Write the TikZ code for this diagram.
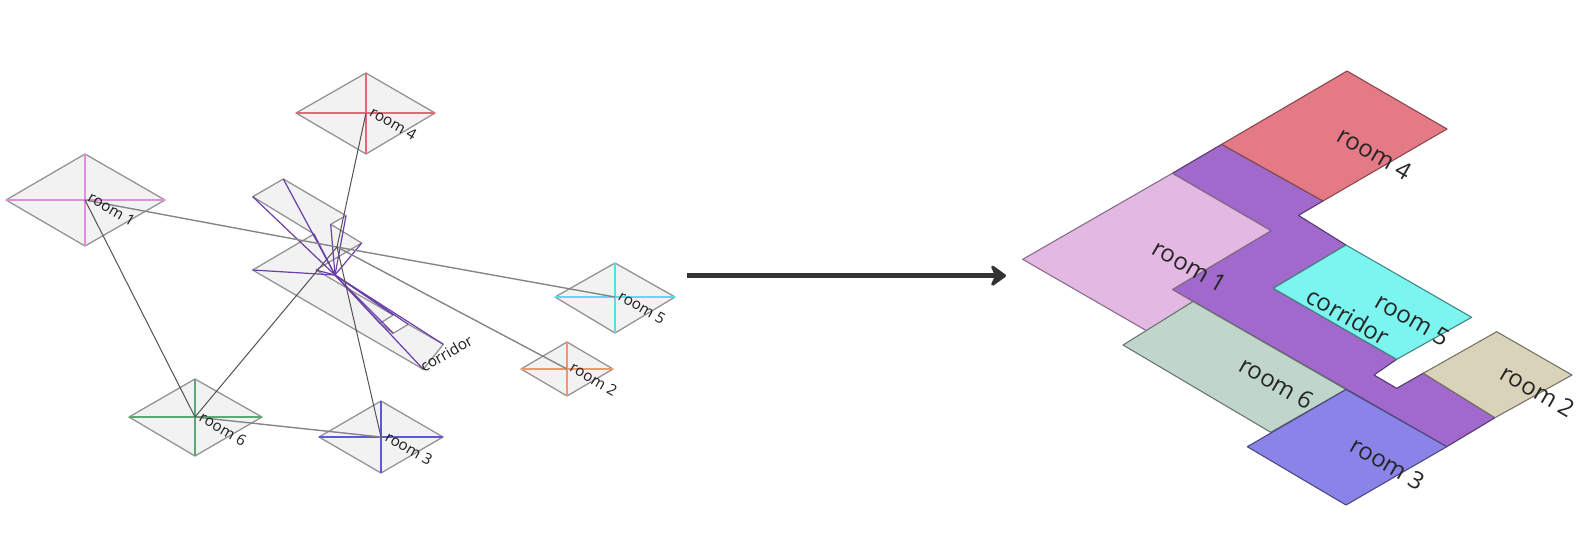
\documentclass[tikz,border=0pt]{standalone}
\usepackage{fontspec}
\setmainfont{Open Sans}
\usetikzlibrary{arrows.meta}
\definecolor{cOne}{HTML}{E3B8E2}
\definecolor{cTwo}{HTML}{D9D3B9}
\definecolor{cThree}{HTML}{8B84E8}
\definecolor{cFour}{HTML}{E37A85}
\definecolor{cFive}{HTML}{7CF5F0}
\definecolor{cSix}{HTML}{C0D6CB}
\definecolor{cCor}{HTML}{A169CC}
\definecolor{xOne}{HTML}{E58BE0}
\definecolor{xTwo}{HTML}{F0986C}
\definecolor{xThree}{HTML}{5F55E0}
\definecolor{xFour}{HTML}{DF6A78}
\definecolor{xFive}{HTML}{5ADCEE}
\definecolor{xSix}{HTML}{5DA873}
\definecolor{xStar}{HTML}{6A3FA8}
\tikzset{
  plate/.style={fill=black!5,draw=black!42,line width=1.3pt,line join=round},
  cross/.style={line width=1.4pt},
  star/.style={draw=xStar,line width=1.2pt},
  linkdark/.style={draw=black!68,line width=1pt},
  linkgray/.style={draw=black!48,line width=1.4pt},
  roomshape/.style={line width=1.1pt,line join=round},
  smalllab/.style={font=\fontsize{15.2}{18}\selectfont,rotate=-30,inner sep=0pt,text=black!88},
  biglab/.style={font=\fontsize{24}{28}\selectfont,rotate=-30,inner sep=0pt,text=black!85},
  bigarrow/.style={draw=black!80,line width=5pt,-{Stealth[length=18pt,width=26pt,inset=6pt,round]}}
}
\begin{document}
\begin{tikzpicture}[x=1pt,y=-1pt]
\useasboundingbox (0,0) rectangle (1593,547);
\coordinate (r1) at (85,200);
\coordinate (r2) at (567,369);
\coordinate (r3) at (381,437);
\coordinate (r4) at (366,113);
\coordinate (r5) at (615,297);
\coordinate (r6) at (195,417);
\coordinate (cc) at (335,275);
\coordinate (jn) at (337,247);
% plates
\draw[plate] (6,200)--(85,154)--(165,200)--(85,246)--cycle;
\draw[plate] (296,113)--(366,73)--(435,113)--(366,154)--cycle;
\draw[plate] (129,417)--(195,379)--(262,417)--(195,456)--cycle;
\draw[plate] (319,437)--(381,401)--(443,437)--(381,473)--cycle;
\draw[plate] (555,297)--(615,263)--(675,297)--(615,333)--cycle;
\draw[plate] (521,369)--(567,342)--(613,369)--(567,396)--cycle;
\draw[plate] (252.7,196.7)--(283.3,179)--(346,215.7)--(330.7,224.3)--(361.7,243)--(316,270)--(393.3,315)--(380,323.3)--(393.3,333.3)--(408.3,324.3)--(443.3,344.3)--(423.3,369.3)--(252.7,270)--(314,234)--cycle;
% crosses
\draw[cross,draw=xOne] (6,200)--(165,200) (85,154)--(85,246);
\draw[cross,draw=xFour] (296,113)--(435,113) (366,73)--(366,154);
\draw[cross,draw=xSix] (129,417)--(262,417) (195,379)--(195,456);
\draw[cross,draw=xThree] (319,437)--(443,437) (381,401)--(381,473);
\draw[cross,draw=xFive] (555,297)--(675,297) (615,263)--(615,333);
\draw[cross,draw=xTwo] (521,369)--(613,369) (567,342)--(567,396);
% corridor star
\foreach \p in {(252.7,196.7),(283.3,179),(346,215.7),(330.7,224.3),(361.7,243),(316,270),(393.3,315),(380,323.3),(393.3,333.3),(408.3,324.3),(443.3,344.3),(423.3,369.3),(252.7,270),(314,234)}
  \draw[star] (cc)--\p;
% connectors
\draw[linkgray] (r1)--(jn);
\draw[linkgray] (jn)--(r5);
\draw[linkgray] (r2)--(jn);
\draw[linkgray] (r6)--(r3);
\draw[linkdark] (r1)--(r6);
\draw[linkdark] (r6)--(jn);
\draw[linkdark] (r4)--(jn);
\draw[linkdark] (r3)--(jn);
% left labels
\node[smalllab] (l4) at (393.3,123.3) {room 4};
\node[smalllab] (l1) at (111.7,209) {room 1};
\node[smalllab] (l6) at (223,429) {room 6};
\node[smalllab] (l3) at (409,448.3) {room 3};
\node[smalllab] (l5) at (642,307.3) {room 5};
\node[smalllab] (l2) at (593.7,379) {room 2};
\node[smalllab,rotate=60] (lc) at (446.3,353.3) {corridor};
% arrow
\coordinate (as) at (687,275.7);
\coordinate (ae) at (1006,275.7);
\draw[bigarrow] (as)--(ae);
% right plan
\draw[roomshape,fill=cCor,draw=cCor!55!black] (1172.3,173.3)--(1221.7,144.3)--(1323,201)--(1298.5,215.4)--(1346,245)--(1273.3,288.3)--(1396.7,359.3)--(1374,375)--(1396.7,388.3)--(1423.3,373.2)--(1495,417.7)--(1446.7,446.7)--(1172.3,289.5)--(1271,230.7)--cycle;
\draw[roomshape,fill=cOne,draw=cOne!60!black] (1022.7,259.3)--(1172.3,173.3)--(1271,230.7)--(1172.3,289.5)--(1193,301.5)--(1147,331)--cycle;
\draw[roomshape,fill=cFour,draw=cFour!60!black] (1221.7,144.3)--(1347,71)--(1447,129)--(1323,201)--cycle;
\draw[roomshape,fill=cFive,draw=cFive!55!black] (1273.3,288.3)--(1346,245)--(1471.7,317.3)--(1396.7,359.3)--cycle;
\draw[roomshape,fill=cSix,draw=cSix!55!black] (1123,345)--(1193,301.5)--(1346,389.5)--(1270.7,432.3)--cycle;
\draw[roomshape,fill=cTwo,draw=cTwo!55!black] (1423.3,373.2)--(1496.7,331.7)--(1572,375)--(1495,417.7)--cycle;
\draw[roomshape,fill=cThree,draw=cThree!55!black] (1247.3,446.7)--(1346,389.5)--(1446.7,446.7)--(1346,505)--cycle;
% right labels
\node[biglab] (b4) at (1375,153.6) {room 4};
\node[biglab] (b1) at (1190,266) {room 1};
\node[biglab] (bc) at (1348.3,316) {corridor};
\node[biglab] (b5) at (1413,319.5) {room 5};
\node[biglab] (b6) at (1276.7,383) {room 6};
\node[biglab] (b3) at (1387.7,463.3) {room 3};
\node[biglab] (b2) at (1538,391) {room 2};
\end{tikzpicture}
\end{document}
